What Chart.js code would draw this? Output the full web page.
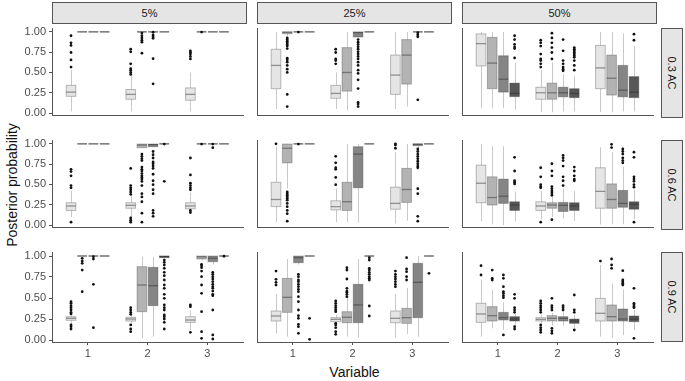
<!DOCTYPE html>
<html>
<head>
<meta charset="utf-8">
<script src="https://cdn.jsdelivr.net/npm/chart.js@4/dist/chart.umd.min.js"></script>
<style>
  body { margin: 0; background: #fff; font-family: "Liberation Sans", Arial, sans-serif; }
  #wrap { position: relative; width: 685px; height: 381px; overflow: hidden; background: #fff; }
  #wrap canvas { position: absolute; }
  .strip { position: absolute; box-sizing: border-box; background: #e5e5e5; border: 1px solid #555;
           color: #1a1a1a; font-size: 11px; display: flex; align-items: center; justify-content: center; }
  .strip.r span { transform: rotate(90deg); white-space: nowrap; }
  .title { position: absolute; color: #111; font-size: 14px; white-space: nowrap; }
</style>
</head>
<body>
<div id="wrap"></div>
<script>
/* facets, categories and ticks */
const colLabels = ['5%', '25%', '50%'];
const rowLabels = ['0.3 AC', '0.6 AC', '0.9 AC'];
const categories = [1, 2, 3];
const yTicks = [0, 0.25, 0.5, 0.75, 1];
const ONE = [1, 1, 1, 1, 1];

// box stats [low whisker, Q1, median, Q3, high whisker]
// order: var 1 groups 1-4, var 2 groups 1-4, var 3 groups 1-4
const stats5_03 = [
  [0.02, 0.206, 0.258, 0.342, 0.53], ONE, ONE, ONE,
  [0.02, 0.17, 0.23, 0.29, 0.46], ONE, ONE, ONE,
  [0.02, 0.158, 0.23, 0.31, 0.5], ONE, ONE, ONE
];
const outl5_03 = [
  [0.567, 0.655, 0.746, 0.833, 0.865, 0.952], [], [], [],
  [0.476, 0.5, 0.528, 0.548, 0.607, 0.754, 0.786], [0.985, 0.952, 0.925, 0.897, 0.873, 0.738], [0.995, 0.96, 0.94, 0.92, 0.67, 0.36], [],
  [0.667, 0.698, 0.726, 0.746, 0.765], [0.997], [], []
];
const stats25_03 = [
  [0.05, 0.30, 0.587, 0.786, 1.0], [0.95, 0.976, 0.995, 1, 1], ONE, ONE,
  [0.05, 0.182, 0.242, 0.341, 0.5], [0.03, 0.27, 0.5, 0.806, 1.0], [0.93, 0.937, 0.99, 1, 1], ONE,
  [0.05, 0.23, 0.468, 0.714, 1.0], [0.08, 0.357, 0.714, 0.905, 1.0], ONE, ONE
];
const outl25_03 = [
  [], [0.925, 0.905, 0.885, 0.865, 0.845, 0.825, 0.794, 0.675, 0.655, 0.627, 0.587, 0.54, 0.5, 0.23, 0.08], [0.997], [],
  [0.607, 0.647, 0.667, 0.746, 0.786], [], [0.905, 0.873, 0.845, 0.817, 0.786, 0.754, 0.726, 0.698, 0.667, 0.627, 0.587, 0.528, 0.488, 0.409, 0.302, 0.131, 0.111, 0.08], [],
  [], [], [0.99, 0.965, 0.94, 0.163], []
];
const stats50_03 = [
  [0.06, 0.58, 0.855, 0.975, 1.0], [0.06, 0.30, 0.615, 0.932, 1.0], [0.06, 0.258, 0.417, 0.706, 1.0], [0.04, 0.202, 0.242, 0.369, 0.62],
  [0.012, 0.17, 0.25, 0.318, 0.53], [0.01, 0.17, 0.25, 0.369, 0.62], [0.02, 0.2, 0.25, 0.318, 0.48], [0.02, 0.19, 0.242, 0.3, 0.46],
  [0.012, 0.30, 0.556, 0.833, 1.0], [0.01, 0.222, 0.429, 0.714, 1.0], [0.02, 0.2, 0.282, 0.587, 0.98], [0.02, 0.19, 0.258, 0.449, 0.82]
];
const outl50_03 = [
  [], [], [], [0.679, 0.794, 0.813, 0.845, 0.905, 0.952],
  [0.567, 0.607, 0.647, 0.667, 0.726, 0.825, 0.865, 0.897], [0.667, 0.746, 0.806, 0.865, 0.925, 0.984], [0.52, 0.54, 0.567, 0.607, 0.647, 0.766, 0.905], [0.528, 0.587, 0.647, 0.687, 0.706, 0.726, 0.746, 0.766, 0.786, 0.806],
  [], [], [], [0.897, 0.972]
];

const stats5_06 = [
  [0.1, 0.18, 0.235, 0.275, 0.42], ONE, ONE, ONE,
  [0.1, 0.207, 0.243, 0.275, 0.37], [0.95, 0.953, 0.985, 0.998, 1], [0.96, 0.965, 0.99, 0.998, 1], ONE,
  [0.19, 0.2, 0.235, 0.275, 0.40], ONE, ONE, ONE
];
const outl5_06 = [
  [0.036, 0.459, 0.486, 0.606, 0.659, 0.686], [], [], [],
  [0.036, 0.06, 0.087, 0.378, 0.407, 0.435, 0.459, 0.486, 0.698], [0.874, 0.846, 0.818, 0.794, 0.714, 0.686, 0.666, 0.634, 0.606, 0.586, 0.566, 0.538, 0.486, 0.387, 0.347, 0.287, 0.147, 0.036], [0.906, 0.866, 0.826, 0.778, 0.755, 0.726, 0.698, 0.626, 0.546, 0.498, 0.435, 0.387, 0.18, 0.147, 0.108], [0.997, 0.539],
  [0.155, 0.18, 0.435, 0.459, 0.486, 0.515, 0.618, 0.826], [0.997], [0.997, 0.953], []
];
const stats25_06 = [
  [0.036, 0.227, 0.315, 0.527, 0.97], [0.45, 0.766, 0.946, 0.998, 1.0], ONE, ONE,
  [0.036, 0.187, 0.227, 0.299, 0.45], [0.036, 0.18, 0.287, 0.527, 1.0], [0.03, 0.459, 0.874, 0.965, 1.0], ONE,
  [0.02, 0.195, 0.267, 0.467, 0.9], [0.055, 0.279, 0.438, 0.698, 1.0], [0.95, 0.978, 0.995, 1, 1], ONE
];
const outl25_06 = [
  [1.0], [0.407, 0.387, 0.367, 0.347, 0.327, 0.307, 0.267, 0.227, 0.18, 0.14, 0.048], [0.997], [],
  [0.498, 0.587, 0.686, 0.706, 0.766, 0.846], [], [], [],
  [0.946, 0.986, 1.0], [], [0.938, 0.906, 0.874, 0.846, 0.818, 0.786, 0.755, 0.726, 0.706, 0.447, 0.387, 0.108, 0.048], []
];
const stats50_06 = [
  [0.048, 0.275, 0.515, 0.738, 1.0], [0.007, 0.247, 0.339, 0.594, 0.97], [0.0, 0.267, 0.355, 0.566, 0.97], [0.048, 0.18, 0.247, 0.287, 0.41],
  [0.07, 0.18, 0.235, 0.287, 0.42], [0.1, 0.207, 0.247, 0.275, 0.35], [0.08, 0.167, 0.243, 0.279, 0.45], [0.05, 0.18, 0.235, 0.275, 0.42],
  [0.007, 0.207, 0.415, 0.706, 0.958], [0.01, 0.207, 0.315, 0.507, 0.9], [0.01, 0.219, 0.267, 0.427, 0.72], [0.07, 0.195, 0.255, 0.287, 0.43]
];
const outl50_06 = [
  [], [], [], [0.507, 0.527, 0.546, 0.666, 0.834],
  [0.036, 0.459, 0.474, 0.498, 0.594, 0.706], [0.067, 0.367, 0.395, 0.419, 0.447, 0.474, 0.606, 0.666, 0.755], [0.486, 0.546, 0.594, 0.726, 0.794, 0.826, 0.858], [0.546, 0.566, 0.606, 0.666, 0.714],
  [], [0.954, 0.994], [0.766, 0.794, 0.826, 0.874, 0.906, 0.938], [0.036, 0.467, 0.498, 0.539, 0.566, 0.594, 0.834, 0.898]
];

const stats5_09 = [
  [0.19, 0.234, 0.258, 0.278, 0.29], ONE, ONE, ONE,
  [0.2, 0.225, 0.25, 0.27, 0.3], [0.02, 0.337, 0.655, 0.873, 0.992], [0.04, 0.409, 0.647, 0.865, 0.99], [0.97, 0.98, 0.995, 1, 1],
  [0.12, 0.21, 0.238, 0.278, 0.35], [0.95, 0.964, 0.99, 1, 1], [0.9, 0.932, 0.972, 1, 1], ONE
];
const outl5_09 = [
  [0.131, 0.159, 0.179, 0.31, 0.33, 0.357, 0.385, 0.409, 0.437, 0.456], [0.972, 0.94, 0.913, 0.833, 0.575], [0.992, 0.964, 0.663, 0.147], [],
  [0.099, 0.131, 0.179, 0.306, 0.33, 0.357, 0.385], [], [], [0.952, 0.925, 0.893, 0.853, 0.806, 0.766, 0.714, 0.655, 0.615, 0.544, 0.496, 0.417, 0.385, 0.357, 0.298, 0.278, 0.25, 0.21, 0.131],
  [0.091, 0.397, 0.417], [0.901, 0.885, 0.861, 0.821, 0.754, 0.655, 0.556, 0.337, 0.099, 0.02], [0.806, 0.782, 0.754, 0.726, 0.694, 0.663, 0.635, 0.615, 0.583, 0.544, 0.528, 0.357, 0.06, 0.012], [0.997]
];
const stats25_09 = [
  [0.08, 0.226, 0.286, 0.345, 0.55], [0.04, 0.329, 0.508, 0.734, 0.964], [0.9, 0.92, 0.98, 1, 1], ONE,
  [0.205, 0.218, 0.246, 0.266, 0.3], [0.04, 0.206, 0.27, 0.337, 0.5], [0.028, 0.206, 0.417, 0.663, 0.964], ONE,
  [0.03, 0.206, 0.258, 0.345, 0.55], [0.071, 0.198, 0.266, 0.377, 0.62], [0.04, 0.266, 0.687, 0.913, 1.0], ONE
];
const outl25_09 = [
  [0.655, 0.687, 0.722, 0.821], [], [0.782, 0.754, 0.714, 0.694, 0.663, 0.635, 0.603, 0.575, 0.516, 0.456, 0.357, 0.29, 0.258, 0.187, 0.159, 0.08], [0.258, 0.008],
  [0.068, 0.099, 0.147, 0.179, 0.198, 0.337, 0.357, 0.385, 0.409, 0.437, 0.464], [0.516, 0.544, 0.567, 0.583, 0.615, 0.726, 0.833, 0.861], [], [0.98, 0.952, 0.853, 0.833, 0.806, 0.782, 0.754, 0.734, 0.714, 0.405, 0.286],
  [0.635, 0.663, 0.694, 0.726, 0.754, 0.782, 0.821], [0.714, 0.754, 0.813, 0.845, 0.98], [], [0.794]
];
const stats50_09 = [
  [0.04, 0.21, 0.31, 0.437, 0.72], [0.139, 0.226, 0.29, 0.397, 0.6], [0.12, 0.238, 0.266, 0.329, 0.45], [0.17, 0.226, 0.25, 0.278, 0.31],
  [0.2, 0.226, 0.246, 0.266, 0.3], [0.17, 0.226, 0.258, 0.29, 0.32], [0.17, 0.226, 0.258, 0.278, 0.33], [0.14, 0.198, 0.226, 0.25, 0.3],
  [0.04, 0.226, 0.318, 0.496, 0.893], [0.028, 0.226, 0.278, 0.417, 0.675], [0.06, 0.226, 0.25, 0.369, 0.6], [0.12, 0.218, 0.25, 0.286, 0.36]
];
const outl50_09 = [
  [0.774, 0.885], [0.714, 0.734, 0.833], [0.06, 0.504, 0.528, 0.556, 0.575, 0.635, 0.734, 0.774], [0.131, 0.159, 0.33, 0.357, 0.385, 0.496, 0.544],
  [0.091, 0.119, 0.147, 0.179, 0.33, 0.357, 0.385, 0.409, 0.437, 0.464], [0.08, 0.107, 0.139, 0.357, 0.385, 0.409, 0.496], [0.357, 0.385, 0.409], [0.119, 0.33, 0.357, 0.536],
  [0.94], [0.853, 0.893, 0.964], [0.655, 0.675, 0.694, 0.714, 0.825], [0.02, 0.385, 0.397, 0.417, 0.437, 0.615]
];

// rows x cols
const panels = [
  [[stats5_03, outl5_03], [stats25_03, outl25_03], [stats50_03, outl50_03]],
  [[stats5_06, outl5_06], [stats25_06, outl25_06], [stats50_06, outl50_06]],
  [[stats5_09, outl5_09], [stats25_09, outl25_09], [stats50_09, outl50_09]]
];

/* layout */
const colX = [52, 257, 462], panelW = 195;
const rowY = [28, 140, 252], panelH = 90;
const axisW = 52, padTop = 8;
const dodge = [-0.28125, -0.09375, 0.09375, 0.28125];
const boxHalf = 0.081;
const fills = ['#e5e5e5', '#b3b3b3', '#858585', '#575757'];
const axisCol = '#555';
const FONT = '"Liberation Sans", Arial, sans-serif';

Chart.defaults.font.family = FONT;

const boxPlugin = {
  id: 'boxes',
  beforeDatasetsDraw(chart, args, opts) {
    const { ctx, chartArea: a, scales: { x, y } } = chart;
    ctx.save();
    ctx.beginPath();
    ctx.rect(a.left, a.top, a.right - a.left, a.bottom - a.top);
    ctx.clip();
    opts.stats.forEach((s, i) => {
      const g = i % 4;
      const xc = categories[Math.floor(i / 4)] + dodge[g];
      const x0 = x.getPixelForValue(xc - boxHalf), x1 = x.getPixelForValue(xc + boxHalf);
      const xm = Math.round(x.getPixelForValue(xc)) + 0.5;
      const [lo, q1, md, q3, hi] = s.map(v => y.getPixelForValue(v));
      // whiskers
      ctx.strokeStyle = 'rgba(40,40,40,0.25)';
      ctx.lineWidth = 1;
      ctx.beginPath();
      ctx.moveTo(xm, lo); ctx.lineTo(xm, q1);
      ctx.moveTo(xm, q3); ctx.lineTo(xm, hi);
      ctx.stroke();
      // box
      ctx.fillStyle = fills[g];
      ctx.fillRect(x0, q3, x1 - x0, q1 - q3);
      ctx.strokeStyle = 'rgba(40,40,40,0.3)';
      ctx.strokeRect(x0, q3, x1 - x0, q1 - q3);
      // median
      ctx.strokeStyle = 'rgba(40,40,40,0.45)';
      ctx.lineWidth = 1.3;
      ctx.beginPath();
      ctx.moveTo(x0, md); ctx.lineTo(x1, md);
      ctx.stroke();
    });
    ctx.restore();
  }
};

const wrap = document.getElementById('wrap');

function addDiv(cls, text, css) {
  const d = document.createElement('div');
  d.className = cls;
  d.innerHTML = text;
  Object.assign(d.style, css);
  wrap.appendChild(d);
  return d;
}

// strips
colLabels.forEach((t, c) => addDiv('strip', t, { left: colX[c] + 'px', top: '2px', width: panelW + 'px', height: '22px' }));
rowLabels.forEach((t, r) => addDiv('strip r', `<span>${t}</span>`, { left: '661px', top: rowY[r] + 'px', width: '22px', height: panelH + 'px' }));

// axis titles
addDiv('title', 'Variable', { left: colX[0] + 'px', width: (colX[2] + panelW - colX[0]) + 'px', textAlign: 'center', top: '364px' });
addDiv('title', 'Posterior probability', { left: '12px', top: '185px', transform: 'translate(-50%,-50%) rotate(-90deg)' });

const noPad = s => { s.paddingTop = 0; s.paddingBottom = 0; s.paddingLeft = 0; s.paddingRight = 0; };

panels.forEach((row, r) => row.forEach(([stats, outl], c) => {
  const bottom = r === 2, left = c === 0;
  const xh = bottom ? 24 : 1;
  const canvas = document.createElement('canvas');
  canvas.width = axisW + panelW;
  canvas.height = padTop + panelH + xh;
  canvas.style.left = (colX[c] - axisW) + 'px';
  canvas.style.top = (rowY[r] - padTop) + 'px';
  wrap.appendChild(canvas);

  const points = [];
  outl.forEach((vals, i) => {
    const xc = categories[Math.floor(i / 4)] + dodge[i % 4];
    vals.forEach(v => points.push({ x: xc, y: v }));
  });

  new Chart(canvas, {
    type: 'scatter',
    data: {
      datasets: [{
        data: points,
        pointRadius: 1.4,
        pointBackgroundColor: '#111',
        pointBorderWidth: 0
      }]
    },
    options: {
      responsive: false,
      animation: false,
      devicePixelRatio: 1,
      events: [],
      layout: { padding: { top: padTop, left: 0, right: 0, bottom: 0 } },
      plugins: { legend: { display: false }, tooltip: { enabled: false }, boxes: { stats } },
      scales: {
        x: {
          type: 'linear', min: 0.4, max: 3.6,
          afterBuildTicks: s => { s.ticks = categories.map(v => ({ value: v })); },
          afterFit: s => { s.height = xh; noPad(s); },
          ticks: { display: bottom, color: '#4d4d4d', font: { size: 11 }, padding: 2, maxRotation: 0, autoSkip: false },
          grid: { display: bottom, drawOnChartArea: false, drawTicks: true, tickLength: 3, color: axisCol },
          border: { display: true, color: axisCol, width: 1 }
        },
        y: {
          type: 'linear', min: -2 / 84, max: 1 + 4 / 84,
          afterBuildTicks: s => { s.ticks = yTicks.map(v => ({ value: v })); },
          afterFit: s => { s.width = axisW; noPad(s); },
          ticks: { display: left, color: '#4d4d4d', font: { size: 11 }, padding: 3, autoSkip: false, callback: v => v.toFixed(2) },
          grid: { display: left, drawOnChartArea: false, drawTicks: true, tickLength: 3, color: axisCol },
          border: { display: true, color: axisCol, width: 1 }
        }
      }
    },
    plugins: [boxPlugin]
  });
}));
</script>
</body>
</html>
